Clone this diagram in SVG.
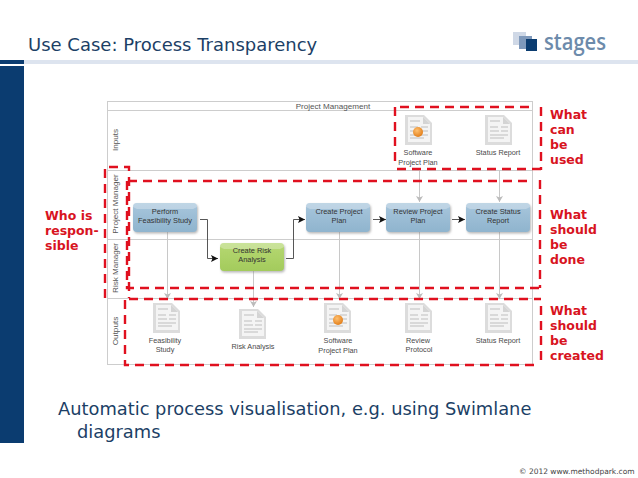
<svg xmlns="http://www.w3.org/2000/svg" width="638" height="478" viewBox="0 0 638 478">
<style>
.lane{fill:none;stroke:#cdcdcd;stroke-width:1}
.lbl{font-family:"Liberation Sans",Arial,sans-serif;font-size:7.300px;fill:#4a4a4a;text-anchor:middle}
.nl{font-family:"Liberation Sans",Arial,sans-serif;font-size:7.400px;fill:#333;text-anchor:middle}
.lh{font-family:"Liberation Sans",Arial,sans-serif;font-size:8.100px;fill:#555;text-anchor:middle}
.red{fill:none;stroke:#e0101f;stroke-width:2.400;stroke-dasharray:9 6}
.rt{font-family:"DejaVu Sans",Verdana,sans-serif;font-weight:bold;font-size:12.500px;fill:#d8141f}
.g{fill:none;stroke:#c8c8c8;stroke-width:1}
.k{fill:none;stroke:#444;stroke-width:.9}
.blue{fill:url(#bg);filter:url(#sh)}
.green{fill:url(#gg);filter:url(#sh)}
.bev{fill:#fff;fill-opacity:.28}
</style>
<defs>
<linearGradient id="bg" x1="0" y1="0" x2="0" y2="1"><stop offset="0" stop-color="#a8c6dc"/><stop offset="1" stop-color="#8fb4ce"/></linearGradient>
<linearGradient id="gg" x1="0" y1="0" x2="0" y2="1"><stop offset="0" stop-color="#b6d873"/><stop offset="1" stop-color="#a3cb5c"/></linearGradient>
<radialGradient id="ball" cx=".4" cy=".35" r=".7"><stop offset="0" stop-color="#ffc070"/><stop offset="1" stop-color="#e07a14"/></radialGradient>
<filter id="sh" x="-10%" y="-15%" width="120%" height="135%"><feDropShadow dx="1" dy="1.500" stdDeviation="1" flood-color="#888" flood-opacity=".6"/></filter>
<marker id="ga" markerWidth="7" markerHeight="7" refX="6" refY="3.500" orient="auto" markerUnits="userSpaceOnUse"><path d="M0 0L6 3.500L0 7L1.500 3.500Z" fill="#bbb"/></marker>
<marker id="ka" markerWidth="8" markerHeight="7" refX="7" refY="3.500" orient="auto" markerUnits="userSpaceOnUse"><path d="M0 0L7 3.500L0 7L1.500 3.500Z" fill="#111"/></marker>
<g id="doc">
<path d="M0 0H19L27 8V30H0Z" fill="#dcdcdc"/>
<path d="M3 2H18L25 9V27H3Z" fill="#f4f4f4"/>
<path d="M18 2V9H25Z" fill="#d4d4d4"/>
<path d="M5 6H15M5 12H13M16 12H23M5 16H14M16 16H23M5 20H23M5 23H19" stroke="#bdbdbd" stroke-width="1.200" fill="none"/>
</g>
</defs>
<rect width="638" height="478" fill="#fff"/>
<g id="slide-frame">
<rect x="0" y="60" width="24" height="4" fill="#0b3c70"/>
<rect x="0" y="66" width="24" height="377" fill="#0b3c70"/>
<rect x="24" y="60" width="614" height="4" fill="#dde4ef"/>
<text x="28" y="51" font-family="'DejaVu Sans',Verdana,sans-serif" font-size="18" fill="#1c3f66">Use Case: Process Transparency</text>
</g>
<g id="logo">
<rect x="513" y="32" width="13" height="13" fill="#cfd8e6"/>
<rect x="519" y="36" width="13" height="13" fill="#7f99bb"/>
<rect x="526" y="39" width="11" height="12" fill="#0b3c70"/>
<text x="544" y="50" font-family="'Open Sans','DejaVu Sans',sans-serif" font-size="23" font-weight="600" fill="#6d8bab" textLength="62" lengthAdjust="spacingAndGlyphs">stages</text>
</g>
<g id="swimlane">
<rect class="lane" x="107.500" y="101.500" width="425" height="263"/>
<path class="lane" d="M107.500 110.500H532.500M107.500 170.500H532.500M107.500 239.500H532.500M107.500 298.500H532.500"/>
<text class="lh" x="333" y="109">Project Management</text>
<text class="lh" transform="translate(118 140) rotate(-90)">Inputs</text>
<text class="lh" transform="translate(118 204) rotate(-90)">Project Manager</text>
<text class="lh" transform="translate(118 268) rotate(-90)">Risk Manager</text>
<text class="lh" transform="translate(118 331) rotate(-90)">Outputs</text>
</g>
<g id="connectors">
<path class="g" d="M419.500 170V202" marker-end="url(#ga)"/>
<path class="g" d="M499.500 170V202" marker-end="url(#ga)"/>
<path class="g" d="M167.500 232V299" marker-end="url(#ga)"/>
<path class="g" d="M253.500 271V307" marker-end="url(#ga)"/>
<path class="g" d="M339.500 232V299" marker-end="url(#ga)"/>
<path class="g" d="M419.500 232V299" marker-end="url(#ga)"/>
<path class="g" d="M499.500 232V299" marker-end="url(#ga)"/>
<path class="k" d="M200 219.500H207.500V258.500H218" marker-end="url(#ka)"/>
<path class="k" d="M286 258.500H293.500V219.500H305" marker-end="url(#ka)"/>
<path class="k" d="M373 219.500H386" marker-end="url(#ka)"/>
<path class="k" d="M452 219.500H465" marker-end="url(#ka)"/>
</g>
<g id="n-perform"><rect class="blue" x="133" y="203" width="64" height="29" rx="4"/><path class="bev" d="M133 207Q133 203 137 203H193Q197 203 197 207L193 209H137Z"/><text class="nl" x="165" y="214">Perform</text><text class="nl" x="165" y="223">Feasibility Study</text></g>
<g id="n-risk"><rect class="green" x="220" y="243" width="64" height="28" rx="4"/><path class="bev" d="M220 247Q220 243 224 243H280Q284 243 284 247L280 249H224Z"/><text class="nl" x="252" y="253">Create Risk</text><text class="nl" x="252" y="262">Analysis</text></g>
<g id="n-plan"><rect class="blue" x="306" y="203" width="64" height="29" rx="4"/><path class="bev" d="M306 207Q306 203 310 203H366Q370 203 370 207L366 209H310Z"/><text class="nl" x="339" y="214">Create Project</text><text class="nl" x="339" y="223">Plan</text></g>
<g id="n-review"><rect class="blue" x="386" y="203" width="64" height="29" rx="4"/><path class="bev" d="M386 207Q386 203 390 203H446Q450 203 450 207L446 209H390Z"/><text class="nl" x="418" y="214">Review Project</text><text class="nl" x="418" y="223">Plan</text></g>
<g id="n-status"><rect class="blue" x="466" y="203" width="64" height="29" rx="4"/><path class="bev" d="M466 207Q466 203 470 203H526Q530 203 530 207L526 209H470Z"/><text class="nl" x="498" y="214">Create Status</text><text class="nl" x="498" y="223">Report</text></g>
<g id="in-plan"><use href="#doc" x="405" y="115"/><circle cx="418" cy="132" r="5" fill="url(#ball)"/><text class="lbl" x="418" y="155">Software</text><text class="lbl" x="418" y="164.500">Project Plan</text></g>
<g id="in-status"><use href="#doc" x="485" y="115"/><text class="lbl" x="498" y="155">Status Report</text></g>
<g id="out-feas"><use href="#doc" x="153" y="303"/><text class="lbl" x="165" y="343">Feasibility</text><text class="lbl" x="165" y="352">Study</text></g>
<g id="out-risk"><use href="#doc" x="239" y="309"/><text class="lbl" x="253" y="349">Risk Analysis</text></g>
<g id="out-plan"><use href="#doc" x="324" y="303"/><circle cx="338" cy="320" r="5" fill="url(#ball)"/><text class="lbl" x="338" y="343">Software</text><text class="lbl" x="338" y="352.500">Project Plan</text></g>
<g id="out-review"><use href="#doc" x="405" y="303"/><text class="lbl" x="418" y="343">Review</text><text class="lbl" x="419" y="352">Protocol</text></g>
<g id="out-status"><use href="#doc" x="485" y="303"/><text class="lbl" x="498" y="343">Status Report</text></g>
<g id="highlights">
<path class="red" d="M395 107V166M400 107H533M397 169H541M541 107V170"/>
<path class="red" d="M128 181H533M127 181V288H541M540 180V288"/>
<path class="red" d="M105 298V167H129V298"/>
<path class="red" d="M129 299H541M125 300V365H538M541 306V364"/>
</g>
<g id="notes">
<text class="rt" x="45" y="219.500">Who is</text><text class="rt" x="45" y="235">respon-</text><text class="rt" x="45" y="250">sible</text>
<text class="rt" x="550" y="119">What</text><text class="rt" x="550" y="134">can</text><text class="rt" x="550" y="149">be</text><text class="rt" x="550" y="164">used</text>
<text class="rt" x="550" y="219">What</text><text class="rt" x="550" y="234">should</text><text class="rt" x="550" y="249">be</text><text class="rt" x="550" y="264">done</text>
<text class="rt" x="550" y="315">What</text><text class="rt" x="550" y="330">should</text><text class="rt" x="550" y="345">be</text><text class="rt" x="550" y="360">created</text>
</g>
<g id="footer">
<text x="58" y="415" font-family="'DejaVu Sans',Verdana,sans-serif" font-size="17.840" fill="#1c3f66">Automatic process visualisation, e.g. using Swimlane</text>
<text x="77" y="438" font-family="'DejaVu Sans',Verdana,sans-serif" font-size="17.840" fill="#1c3f66">diagrams</text>
<text x="519" y="474" font-family="'DejaVu Sans',Verdana,sans-serif" font-size="7.500" fill="#444">© 2012 www.methodpark.com</text>
</g>
</svg>
